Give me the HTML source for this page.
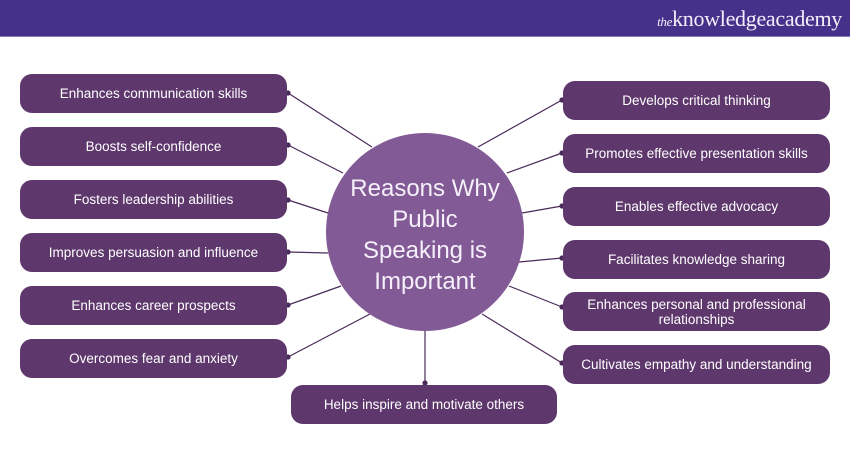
<!DOCTYPE html>
<html><head><meta charset="utf-8"><style>
body{margin:0;width:850px;height:450px;background:#fff;position:relative;overflow:hidden;font-family:"Liberation Sans",sans-serif}
.hd{position:absolute;left:0;top:0;width:850px;height:36px;background:#45318a;border-bottom:1px solid #8a7cc0}
.logo{position:absolute;right:8px;top:6px;color:#f3eefa;font-family:"Liberation Serif",serif;font-size:22px;letter-spacing:-0.3px}
.logo i{font-size:13px}
.b{position:absolute;width:267px;height:39px;background:#5e376c;border-radius:12px;color:#fff;font-size:13.5px;display:flex;align-items:center;justify-content:center;text-align:center;line-height:15px}
.c{position:absolute;left:326px;top:133px;width:198px;height:198px;border-radius:50%;background:#825b96;color:#f6f0fa;font-size:24px;line-height:31px;display:flex;align-items:center;justify-content:center;text-align:center;padding-top:6px;box-sizing:border-box}
</style></head><body>
<div class="hd"><div class="logo"><i>the</i>knowledgeacademy</div></div>
<svg width="850" height="450" style="position:absolute;left:0;top:0">
<g stroke="#4a2a5a" stroke-width="1.2" fill="#4a2a5a">
<line x1="288" y1="93" x2="372" y2="147"/><circle cx="288" cy="93" r="2"/>
<line x1="288" y1="145" x2="343" y2="173"/><circle cx="288" cy="145" r="2"/>
<line x1="288" y1="200" x2="328" y2="213"/><circle cx="288" cy="200" r="2"/>
<line x1="288" y1="252" x2="328" y2="253"/><circle cx="288" cy="252" r="2"/>
<line x1="288" y1="305" x2="341" y2="286"/><circle cx="288" cy="305" r="2"/>
<line x1="288" y1="357" x2="370" y2="314"/><circle cx="288" cy="357" r="2"/>
<line x1="562" y1="100" x2="478" y2="147"/><circle cx="562" cy="100" r="2"/>
<line x1="562" y1="153" x2="507" y2="173"/><circle cx="562" cy="153" r="2"/>
<line x1="562" y1="206" x2="522" y2="213"/><circle cx="562" cy="206" r="2"/>
<line x1="562" y1="258" x2="519" y2="262"/><circle cx="562" cy="258" r="2"/>
<line x1="562" y1="307" x2="509" y2="286"/><circle cx="562" cy="307" r="2"/>
<line x1="562" y1="363" x2="482" y2="314"/><circle cx="562" cy="363" r="2"/>
<line x1="425" y1="330" x2="425" y2="383"/><circle cx="425" cy="383" r="2"/>
</g></svg>
<div class="c">Reasons Why<br>Public<br>Speaking is<br>Important</div>
<div class="b" style="left:20px;top:74px">Enhances communication skills</div>
<div class="b" style="left:20px;top:127px">Boosts self-confidence</div>
<div class="b" style="left:20px;top:180px">Fosters leadership abilities</div>
<div class="b" style="left:20px;top:233px">Improves persuasion and influence</div>
<div class="b" style="left:20px;top:286px">Enhances career prospects</div>
<div class="b" style="left:20px;top:339px">Overcomes fear and anxiety</div>
<div class="b" style="left:563px;top:81px">Develops critical thinking</div>
<div class="b" style="left:563px;top:134px">Promotes effective presentation skills</div>
<div class="b" style="left:563px;top:187px">Enables effective advocacy</div>
<div class="b" style="left:563px;top:240px">Facilitates knowledge sharing</div>
<div class="b" style="left:563px;top:292px">Enhances personal and professional relationships</div>
<div class="b" style="left:563px;top:345px">Cultivates empathy and understanding</div>
<div class="b" style="left:291px;top:385px;width:266px">Helps inspire and motivate others</div>
</body></html>
